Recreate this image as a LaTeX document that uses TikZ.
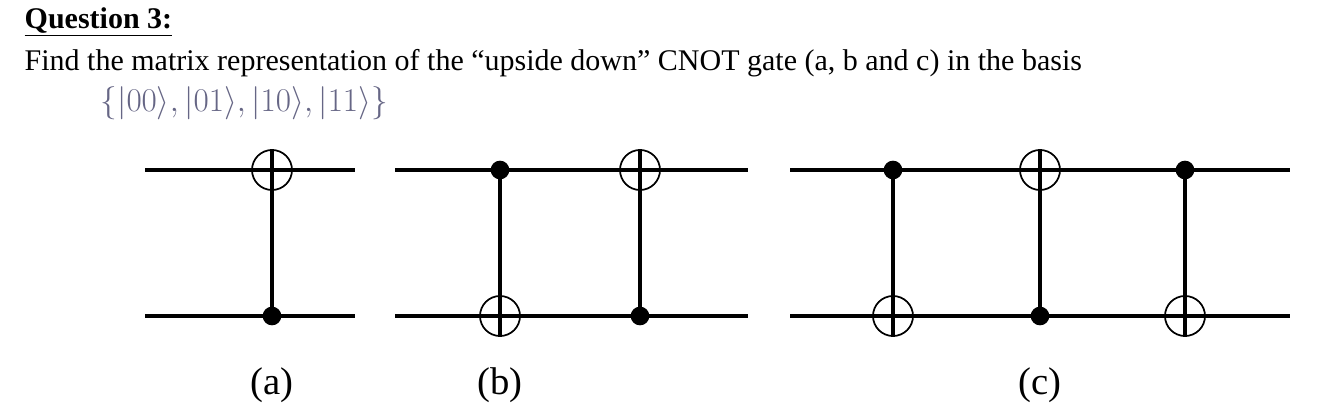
\documentclass[tikz,border=0pt]{standalone}
\usepackage{fontspec}
\setmainfont{Liberation Serif}
\begin{document}
\begin{tikzpicture}[x=0.75pt,y=-0.75pt,
  wire/.style={line width=3.6pt},
  vline/.style={line width=3pt},
  ctrl/.style={circle,fill=black,inner sep=0pt,minimum size=14pt},
  targ/.style={circle,draw=black,line width=1.3pt,inner sep=0pt,minimum size=30pt},
  lab/.style={font=\fontsize{29}{32}\selectfont}]
\useasboundingbox (0,0) rectangle (1342,416);
\node[anchor=west,font=\bfseries\fontsize{22.5}{26}\selectfont] (title) at (20,22) {\underline{Question 3:}};
\node[anchor=west,font=\fontsize{22.5}{26}\selectfont] (q) at (20,63) {Find the matrix representation of the “upside down” CNOT gate (a, b and c) in the basis};
\node[anchor=west,text=black!80!blue!60,font=\fontsize{30}{32}\selectfont] (basis) at (96,103) {$\{|00\rangle,|01\rangle,|10\rangle,|11\rangle\}$};
% wires
\coordinate (a1) at (145,170); \coordinate (a2) at (355,170);
\coordinate (a3) at (145,316); \coordinate (a4) at (355,316);
\coordinate (b1) at (395,170); \coordinate (b2) at (748,170);
\coordinate (b3) at (395,316); \coordinate (b4) at (748,316);
\coordinate (c1) at (790,170); \coordinate (c2) at (1290,170);
\coordinate (c3) at (790,316); \coordinate (c4) at (1290,316);
\draw[wire] (a1)--(a2) (a3)--(a4) (b1)--(b2) (b3)--(b4) (c1)--(c2) (c3)--(c4);
% gates
\foreach \n/\x/\t in {ga/272/1, gb1/500/0, gb2/640/1, gc1/893/0, gc2/1040/1, gc3/1185/0}{
  \ifnum\t=1
    \node[targ] (\n t) at (\x,170) {};
    \node[ctrl] (\n b) at (\x,316) {};
    \draw[vline] (\n t.north)--(\n b.center);
    \draw[line width=1.5pt] (\n t.west)--(\n t.east);
  \else
    \node[ctrl] (\n t) at (\x,170) {};
    \node[targ] (\n b) at (\x,316) {};
    \draw[vline] (\n t.center)--(\n b.south);
    \draw[line width=1.5pt] (\n b.west)--(\n b.east);
  \fi
}
\node[lab] (la) at (272,385) {(a)};
\node[lab] (lb) at (500,385) {(b)};
\node[lab] (lc) at (1040,385) {(c)};
\end{tikzpicture}
\end{document}
